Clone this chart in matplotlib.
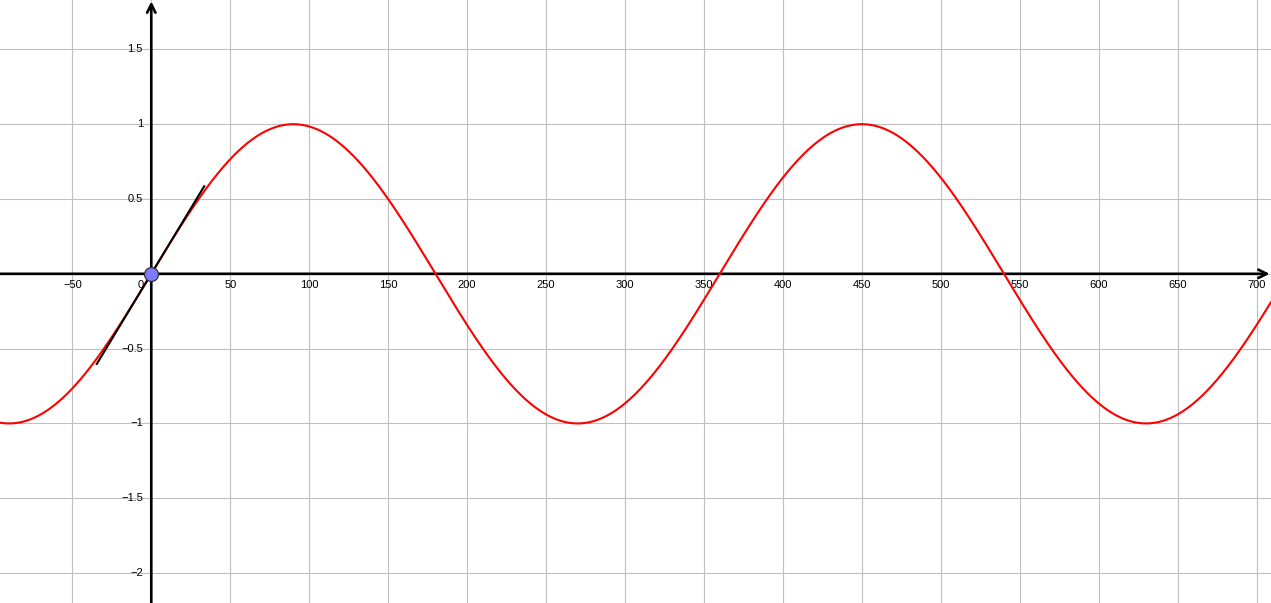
import numpy as np
import matplotlib
matplotlib.use('Agg')
import matplotlib.pyplot as plt

# curve: sine in degrees, amplitude 1, period 360
amplitude = 1.0
period = 360.0
x_range = (-95.8, 709.1)
y_range = (-2.2, 1.83)

x_ticks = [-50, 0, 50, 100, 150, 200, 250, 300, 350, 400, 450, 500, 550, 600, 650, 700]
y_ticks = [-2, -1.5, -1, -0.5, 0.5, 1, 1.5]
y_tick_labels = ['\u22122', '\u22121.5', '\u22121', '\u22120.5', '0.5', '1', '1.5']

point = (0.0, 0.0)
tangent_x = [-34.5, 33.5]

fig = plt.figure(figsize=(12.71, 6.03), dpi=100)
ax = fig.add_axes([0, 0, 1, 1])
ax.set_xlim(*x_range)
ax.set_ylim(*y_range)
for s in ax.spines.values():
    s.set_visible(False)
ax.set_xticks(x_ticks)
ax.set_yticks(y_ticks + [0])
ax.tick_params(length=0, labelbottom=False, labelleft=False)
ax.grid(True, color='#c0c0c0', lw=0.8)
ax.set_axisbelow(True)

# axes with arrows
ax.annotate('', xy=(x_range[1], 0), xytext=(x_range[0], 0),
            arrowprops=dict(arrowstyle='->', color='black', lw=1.9,
                            mutation_scale=15, shrinkA=0, shrinkB=1))
ax.annotate('', xy=(0, y_range[1]), xytext=(0, y_range[0]),
            arrowprops=dict(arrowstyle='->', color='black', lw=1.9,
                            mutation_scale=15, shrinkA=0, shrinkB=1))

# tick labels
fs = 8
for xt in x_ticks:
    if xt == 0:
        ax.annotate('0', xy=(0, 0), xytext=(-7.5, -8), textcoords='offset points',
                    ha='center', va='center', fontsize=fs, family='Liberation Sans')
    else:
        lab = ('\u2212%d' % -xt) if xt < 0 else '%d' % xt
        ax.annotate(lab, xy=(xt, 0), xytext=(0, -8), textcoords='offset points',
                    ha='center', va='center', fontsize=fs, family='Liberation Sans')
for yt, lab in zip(y_ticks, y_tick_labels):
    ax.annotate(lab, xy=(0, yt), xytext=(-6, 0), textcoords='offset points',
                ha='right', va='center', fontsize=fs, family='Liberation Sans')

x = np.linspace(x_range[0], x_range[1], 2000)
y = amplitude * np.sin(2 * np.pi * x / period)
ax.plot(x, y, color='#ff0000', lw=1.5, zorder=3)

slope = amplitude * 2 * np.pi / period
tx = np.array(tangent_x)
ax.plot(tx, point[1] + slope * (tx - point[0]), color='black', lw=1.5, zorder=4)

ax.plot(point[0], point[1], 'o', ms=10, mfc='#7b7bff', mec='#333333',
        mew=0.9, zorder=5)

fig.savefig('out.png', dpi=100)
